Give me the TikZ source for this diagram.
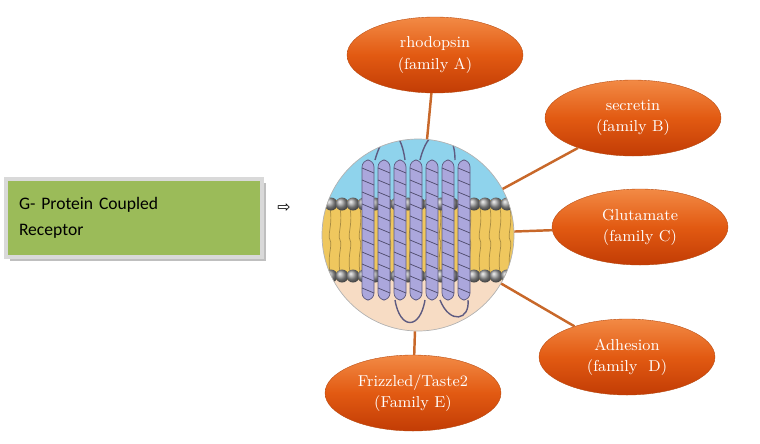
\documentclass[tikz,border=0pt]{standalone}
\usepackage{fontspec}
\usetikzlibrary{shapes.geometric,shadows,positioning}
\newfontfamily\boxfont{Carlito}
\newfontfamily\symfont{DejaVu Sans}
\definecolor{fam}{HTML}{E25A12}
\definecolor{famdark}{HTML}{C23C05}
\definecolor{famlight}{HTML}{F28A45}
\definecolor{boxgreen}{HTML}{9BBB59}
\definecolor{skyblue}{HTML}{8FD3EC}
\definecolor{lipid}{HTML}{EFC75E}
\definecolor{headgrey}{HTML}{9A9A9A}
\definecolor{helix}{HTML}{9C97D6}
\definecolor{cyto}{HTML}{F7DCC4}
\definecolor{link}{HTML}{C8682A}
\begin{document}
\begin{tikzpicture}[x=0.02cm,y=-0.02cm,
    family/.style={ellipse, minimum width=176*0.02cm, minimum height=76*0.02cm,
        top color=famlight, bottom color=famdark, middle color=fam, draw=fam!80!black, very thin,
        align=center, font=\fontsize{9}{12}\selectfont, text=white},
    link/.style={draw=link, line width=1.4pt}
]
\useasboundingbox (0,0) rectangle (760,443);

% receptor box
\node[rectangle, fill=boxgreen, draw=gray!30, line width=2pt, drop shadow,
    minimum width=256*0.02cm, minimum height=78*0.02cm, text width=230*0.02cm,
    align=left, font=\boxfont\fontsize{10}{15}\selectfont] (gpcr) at (134,218)
    {G- Protein Coupled\\Receptor};
\node[font=\symfont\fontsize{9}{9}\selectfont] (pointer) at (284,208) {⇨};

% membrane picture
\node[circle, minimum size=192*0.02cm, inner sep=0pt] (cell) at (418,235) {};
\begin{scope}
  \clip (418,235) circle (96);
  \fill[skyblue] (300,130) rectangle (540,200);
  \fill[cyto] (300,280) rectangle (540,340);
  \fill[lipid] (300,200) rectangle (540,280);
  \foreach \x in {320,330,...,520} {
    \draw[lipid!70!black, thin] (\x,208) .. controls (\x+3,225) and (\x-3,235) .. (\x,240);
    \draw[lipid!70!black, thin] (\x,272) .. controls (\x-3,255) and (\x+3,245) .. (\x,240);
  }
  \foreach \y in {204,276} {
    \foreach \x in {320,331,...,520}
      \shade[ball color=headgrey] (\x,\y) circle (6.5);
  }
  \foreach \x in {362,378,394,410,426,442,458} {
    \fill[helix!85!white, draw=helix!60!black, thin, rounded corners=4pt]
      (\x,160) rectangle (\x+12,300);
    \foreach \y in {168,180,...,292}
      \draw[helix!50!black, thin] (\x,\y) -- (\x+12,\y+5);
  }
  \draw[helix!60!black, thick] (375,160) .. controls (385,125) and (400,125) .. (405,160);
  \draw[helix!60!black, thick] (420,160) .. controls (430,120) and (455,125) .. (455,160);
  \draw[helix!60!black, thick] (395,300) .. controls (400,330) and (420,330) .. (425,300);
  \draw[helix!60!black, thick] (440,300) .. controls (450,325) and (470,320) .. (468,300);
\end{scope}
\draw[gray!60] (418,235) circle (96);

% families
\node[family] (rhodopsin) at (435,55) {rhodopsin\\(family A)};
\node[family] (secretin) at (633,118) {secretin\\(family B)};
\node[family] (glutamate) at (640,227) {Glutamate\\(family C)};
\node[family] (adhesion) at (627,357) {Adhesion\\(family~ D)};
\node[family] (frizzled) at (413,393) {Frizzled/Taste2\\(Family E)};

% links
\draw[link] (rhodopsin) -- (cell);
\draw[link] (secretin) -- (cell);
\draw[link] (glutamate) -- (cell);
\draw[link] (adhesion) -- (cell);
\draw[link] (frizzled) -- (cell);
\end{tikzpicture}
\end{document}
